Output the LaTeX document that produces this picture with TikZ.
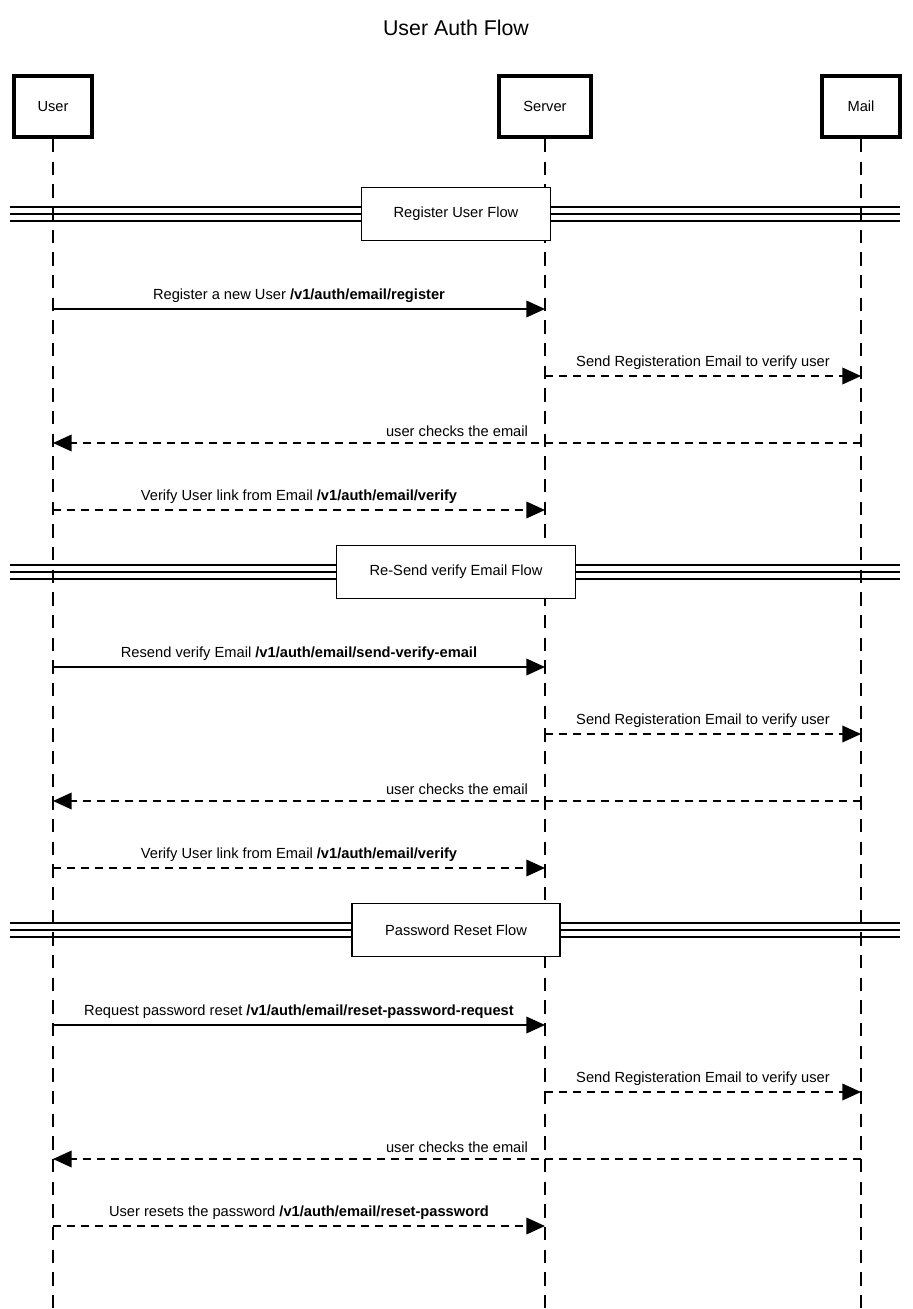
\documentclass[tikz,border=0pt]{standalone}
\usepackage{fontspec}
\setmainfont{Liberation Sans}
\usetikzlibrary{arrows.meta,positioning}

\begin{document}
\begin{tikzpicture}[
  x=0.75pt, y=-0.75pt,
  actor/.style={draw, line width=3pt, minimum width=58.5pt, minimum height=45.75pt,
                font=\fontsize{11}{13}\selectfont},
  flowbox/.style={draw, fill=white, line width=1.1pt, minimum height=40pt,
                  font=\fontsize{11}{13}\selectfont},
  life/.style={line width=1.1pt, dash pattern=on 10pt off 7pt},
  sepline/.style={line width=1.1pt},
  msg/.style={-{Triangle[length=14pt,width=12.5pt]}, line width=1.1pt},
  dmsg/.style={msg, dash pattern=on 6pt off 4.5pt},
  lbl/.style={above, yshift=1pt, font=\fontsize{11}{13}\selectfont},
]
\useasboundingbox (0,0) rectangle (913,1309);

\node[font=\fontsize{16}{19}\selectfont] (title) at (456,28) {User Auth Flow};

% participants
\node[actor] (user) at (53,106.5) {User};
\node[actor, minimum width=69pt] (server) at (545,106.5) {Server};
\node[actor] (mail) at (861,106.5) {Mail};

% lifelines
\coordinate (userend) at (53,1309);
\coordinate (serverend) at (545,1309);
\coordinate (mailend) at (861,1309);
\draw[life] (user.south) -- (userend);
\draw[life] (server.south) -- (serverend);
\draw[life] (mail.south) -- (mailend);

% flow separators
\foreach \i/\fy/\fw/\ftext in {1/214/142pt/Register User Flow,
                               2/572/179pt/Re-Send verify Email Flow,
                               3/930/156pt/Password Reset Flow} {
  \foreach \dy in {-7,0,7}
    \draw[sepline] (10,\fy+\dy) -- (900,\fy+\dy);
  \node[flowbox, minimum width=\fw] (flow\i) at (456,\fy) {\ftext};
}

% register
\draw[msg] (user |- 0,309) -- node[lbl] {Register a new User \textbf{/v1/auth/email/register}} (server |- 0,309);
\draw[dmsg] (server |- 0,376) -- node[lbl] {Send Registeration Email to verify user} (mail |- 0,376);
\draw[dmsg] (mail |- 0,443) -- node[lbl] {user checks the email} (user |- 0,443);
\draw[dmsg] (user |- 0,510) -- node[lbl] {Verify User link from Email \textbf{/v1/auth/email/verify}} (server |- 0,510);

% re-send
\draw[msg] (user |- 0,667) -- node[lbl] {Resend verify Email \textbf{/v1/auth/email/send-verify-email}} (server |- 0,667);
\draw[dmsg] (server |- 0,734) -- node[lbl] {Send Registeration Email to verify user} (mail |- 0,734);
\draw[dmsg] (mail |- 0,801) -- node[lbl] {user checks the email} (user |- 0,801);
\draw[dmsg] (user |- 0,868) -- node[lbl] {Verify User link from Email \textbf{/v1/auth/email/verify}} (server |- 0,868);

% password reset
\draw[msg] (user |- 0,1025) -- node[lbl] {Request password reset \textbf{/v1/auth/email/reset-password-request}} (server |- 0,1025);
\draw[dmsg] (server |- 0,1092) -- node[lbl] {Send Registeration Email to verify user} (mail |- 0,1092);
\draw[dmsg] (mail |- 0,1159) -- node[lbl] {user checks the email} (user |- 0,1159);
\draw[dmsg] (user |- 0,1226) -- node[lbl] {User resets the password \textbf{/v1/auth/email/reset-password}} (server |- 0,1226);
\end{tikzpicture}
\end{document}
